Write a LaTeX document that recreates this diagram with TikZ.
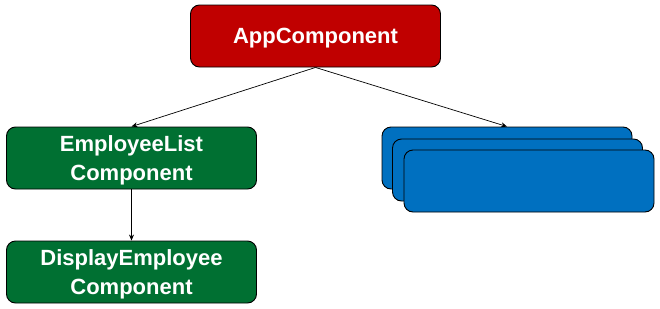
\documentclass[tikz,border=0pt]{standalone}
\usepackage{fontspec}
\setmainfont{Liberation Sans}
\usetikzlibrary{arrows.meta}
\definecolor{appred}{RGB}{192,0,0}
\definecolor{compgreen}{RGB}{0,112,50}
\definecolor{compblue}{RGB}{0,112,192}
\tikzset{
  box/.style={draw=black, line width=0.9pt, rounded corners=9pt, minimum width=250pt, minimum height=62pt,
    text=white, align=center, font=\fontsize{22}{29}\selectfont\bfseries, inner sep=0pt, text depth=0pt},
  conn/.style={-{Stealth[length=6pt,width=5pt]}, line width=0.7pt}
}
\begin{document}
\begin{tikzpicture}[x=1pt,y=-1pt]
\useasboundingbox (0,0) rectangle (660,308);
\node[box, fill=appred] (app) at (315.5,36) {AppComponent};
\node[box, fill=compgreen] (el) at (131.5,158) {EmployeeList\\Component};
\node[box, fill=compgreen] (de) at (131.5,272) {DisplayEmployee\\Component};
\node[box, fill=compblue] (b1) at (507,158) {};
\node[box, fill=compblue] (b2) at (517.5,170) {};
\node[box, fill=compblue] (b3) at (529,181) {};
\draw[conn] (app.south) -- (el.north);
\draw[conn] (app.south) -- (b1.north);
\draw[conn] (el.south) -- (de.north);
\end{tikzpicture}
\end{document}
